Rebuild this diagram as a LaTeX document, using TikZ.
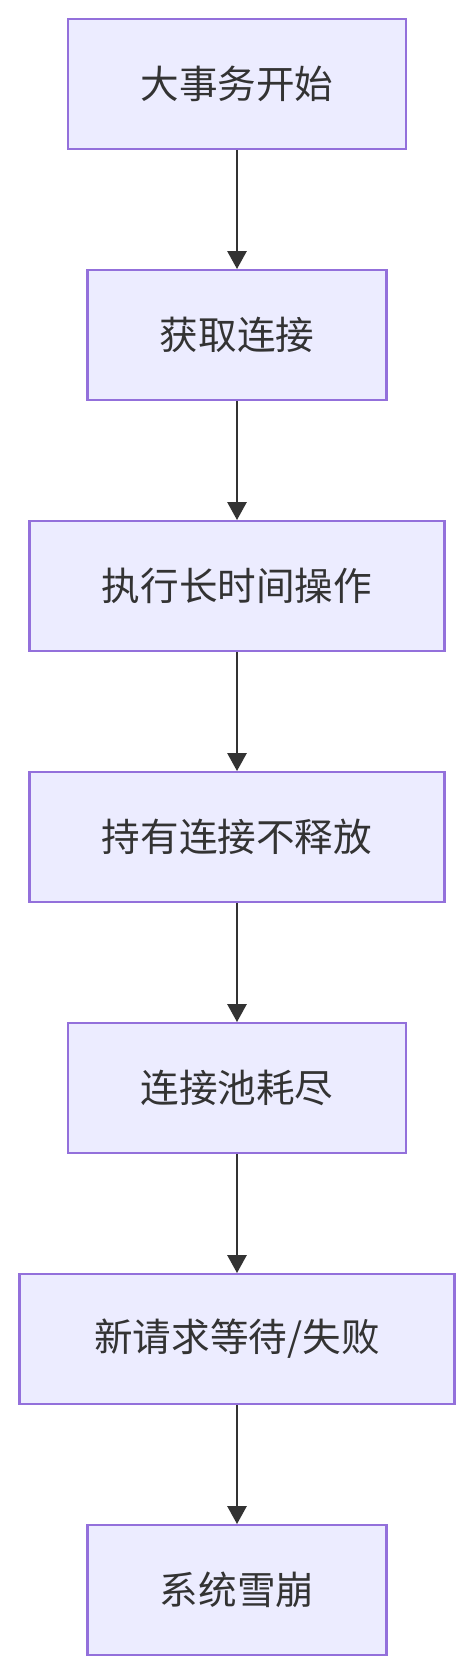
\documentclass[tikz,border=0pt]{standalone}
\usepackage{fontspec}
\newfontfamily\cjk{Noto Sans CJK SC}
\usetikzlibrary{arrows.meta}
\definecolor{boxfill}{HTML}{ECECFF}
\definecolor{boxline}{HTML}{9370DB}
\definecolor{ink}{HTML}{333333}
\tikzset{
  stepbox/.style={draw=boxline, fill=boxfill, line width=2.4pt, minimum height=129.5pt, inner sep=0pt, text=ink, font=\cjk\fontsize{38.6pt}{46pt}\selectfont},
  flow/.style={draw=ink, line width=2.8pt, -{Triangle[length=18pt,width=19pt]}}
}
\begin{document}
\begin{tikzpicture}
\useasboundingbox[fill=white] (0pt,0pt) rectangle (474pt,-1675pt);
\node[stepbox, minimum width=338pt] (a) at (237pt,-84pt) {大事务开始};
\node[stepbox, minimum width=299pt] (b) at (237pt,-335pt) {获取连接};
\node[stepbox, minimum width=415pt] (c) at (237pt,-586pt) {执行长时间操作};
\node[stepbox, minimum width=415pt] (d) at (237pt,-837pt) {持有连接不释放};
\node[stepbox, minimum width=435pt] (f) at (237pt,-1339pt) {新请求等待/失败};
\node[stepbox, minimum width=338pt] (e) at (237pt,-1088pt) {连接池耗尽};
\node[stepbox, minimum width=299pt] (g) at (237pt,-1590pt) {系统雪崩};
\draw[flow] (a) -- (b);
\draw[flow] (b) -- (c);
\draw[flow] (c) -- (d);
\draw[flow] (d) -- (e);
\draw[flow] (e) -- (f);
\draw[flow] (f) -- (g);
\end{tikzpicture}
\end{document}
